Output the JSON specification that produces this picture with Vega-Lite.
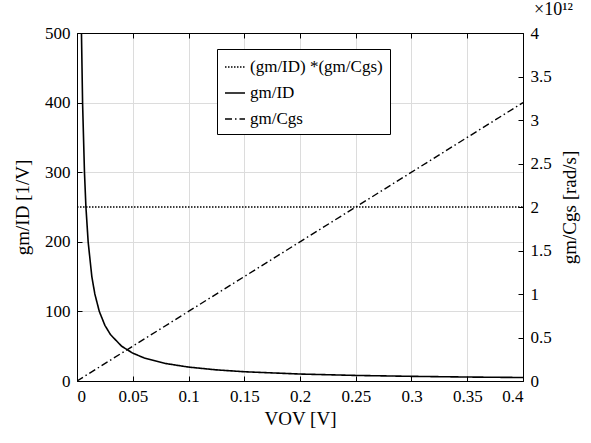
{
  "$schema": "https://vega.github.io/schema/vega-lite/v6.json",
  "autosize": {"type": "none"},
  "padding": {"left": 77, "top": 33, "right": 68, "bottom": 62},
  "width": 446,
  "height": 348,
  "background": "white",
  "config": {
    "font": "Liberation Serif",
    "view": {"stroke": "black", "strokeWidth": 1},
    "axis": {
      "labelFont": "Liberation Serif",
      "titleFont": "Liberation Serif",
      "labelFontSize": 17,
      "titleFontSize": 19,
      "titleFontWeight": "normal",
      "labelColor": "black",
      "titleColor": "black",
      "domainColor": "black",
      "tickColor": "black",
      "gridColor": "#dcdcdc",
      "tickSize": -5,
      "labelPadding": 12
    },
    "legend": {"labelFont": "Liberation Serif"}
  },
  "title": {
    "text": "×10¹²",
    "anchor": "end",
    "frame": "group",
    "dx": 50,
    "offset": 5,
    "font": "Liberation Serif",
    "fontSize": 18,
    "fontWeight": "normal",
    "color": "black"
  },
  "data": {
    "values": [
      {"v": 0, "gm": 250, "s": "(gm/ID) *(gm/Cgs)"},
      {"v": 0.1, "gm": 250, "s": "(gm/ID) *(gm/Cgs)"},
      {"v": 0.2, "gm": 250, "s": "(gm/ID) *(gm/Cgs)"},
      {"v": 0.3, "gm": 250, "s": "(gm/ID) *(gm/Cgs)"},
      {"v": 0.4, "gm": 250, "s": "(gm/ID) *(gm/Cgs)"},
      {"v": 0.004, "gm": 500, "s": "gm/ID"},
      {"v": 0.005, "gm": 400, "s": "gm/ID"},
      {"v": 0.0067, "gm": 300, "s": "gm/ID"},
      {"v": 0.008, "gm": 250, "s": "gm/ID"},
      {"v": 0.01, "gm": 200, "s": "gm/ID"},
      {"v": 0.0133, "gm": 150, "s": "gm/ID"},
      {"v": 0.016, "gm": 125, "s": "gm/ID"},
      {"v": 0.02, "gm": 100, "s": "gm/ID"},
      {"v": 0.025, "gm": 80, "s": "gm/ID"},
      {"v": 0.03, "gm": 66.7, "s": "gm/ID"},
      {"v": 0.04, "gm": 50, "s": "gm/ID"},
      {"v": 0.05, "gm": 40, "s": "gm/ID"},
      {"v": 0.06, "gm": 33.3, "s": "gm/ID"},
      {"v": 0.08, "gm": 25, "s": "gm/ID"},
      {"v": 0.1, "gm": 20, "s": "gm/ID"},
      {"v": 0.125, "gm": 16, "s": "gm/ID"},
      {"v": 0.15, "gm": 13.3, "s": "gm/ID"},
      {"v": 0.2, "gm": 10, "s": "gm/ID"},
      {"v": 0.25, "gm": 8, "s": "gm/ID"},
      {"v": 0.3, "gm": 6.7, "s": "gm/ID"},
      {"v": 0.35, "gm": 5.7, "s": "gm/ID"},
      {"v": 0.4, "gm": 5, "s": "gm/ID"},
      {"v": 0, "gm": 0, "s": "gm/Cgs"},
      {"v": 0.4, "gm": 3.2e12, "s": "gm/Cgs"}
    ]
  },
  "encoding": {
    "x": {
      "field": "v",
      "type": "quantitative",
      "scale": {"domain": [0, 0.4], "nice": false, "zero": false}
    },
    "strokeDash": {
      "field": "s",
      "type": "nominal",
      "scale": {
        "domain": ["(gm/ID) *(gm/Cgs)", "gm/ID", "gm/Cgs"],
        "range": [[1.5, 1.5], [1, 0], [7, 3, 1.5, 3]]
      },
      "legend": {
        "title": null,
        "orient": "none",
        "legendX": 140,
        "legendY": 16,
        "symbolType": "stroke",
        "symbolSize": 400,
        "symbolStrokeColor": "black",
        "symbolStrokeWidth": 1.5,
        "labelFont": "Liberation Serif",
        "labelFontSize": 17,
        "labelColor": "black",
        "labelLimit": 300,
        "rowPadding": 7,
        "strokeColor": "black",
        "fillColor": "white",
        "padding": 7,
        "cornerRadius": 0
      }
    }
  },
  "layer": [
    {
      "transform": [{"filter": "datum.s !== 'gm/Cgs'"}],
      "mark": {"type": "line", "color": "black", "strokeWidth": 1.6, "clip": true},
      "encoding": {
        "y": {
          "field": "gm",
          "type": "quantitative",
          "scale": {"domain": [0, 500], "nice": false},
          "axis": {
            "orient": "left",
            "values": [0, 100, 200, 300, 400, 500],
            "grid": true,
            "title": "gm/ID [1/V]",
            "titlePadding": 12
          }
        },
        "x": {
          "field": "v",
          "type": "quantitative",
          "axis": {
            "orient": "bottom",
            "values": [0, 0.05, 0.1, 0.15, 0.2, 0.25, 0.3, 0.35, 0.4],
            "format": "~g",
            "grid": true,
            "title": "VOV [V]",
            "titlePadding": 5
          }
        }
      }
    },
    {
      "transform": [{"filter": "datum.s === 'gm/Cgs'"}],
      "mark": {"type": "line", "color": "black", "strokeWidth": 1.4, "clip": true},
      "encoding": {
        "y": {
          "field": "gm",
          "type": "quantitative",
          "scale": {"domain": [0, 4e12], "nice": false},
          "axis": {
            "orient": "right",
            "values": [0, 5e11, 1e12, 1.5e12, 2e12, 2.5e12, 3e12, 3.5e12, 4e12],
            "labelExpr": "format(datum.value / 1e12, '~g')",
            "grid": false,
            "title": "gm/Cgs [rad/s]",
            "titleAngle": 270,
            "titlePadding": 28
          }
        },
        "x": {
          "field": "v",
          "type": "quantitative",
          "axis": {
            "orient": "top",
            "values": [0, 0.05, 0.1, 0.15, 0.2, 0.25, 0.3, 0.35, 0.4],
            "labels": false,
            "grid": false,
            "title": null
          }
        }
      }
    }
  ],
  "resolve": {
    "scale": {"y": "independent"},
    "axis": {"x": "independent", "y": "independent"}
  }
}
